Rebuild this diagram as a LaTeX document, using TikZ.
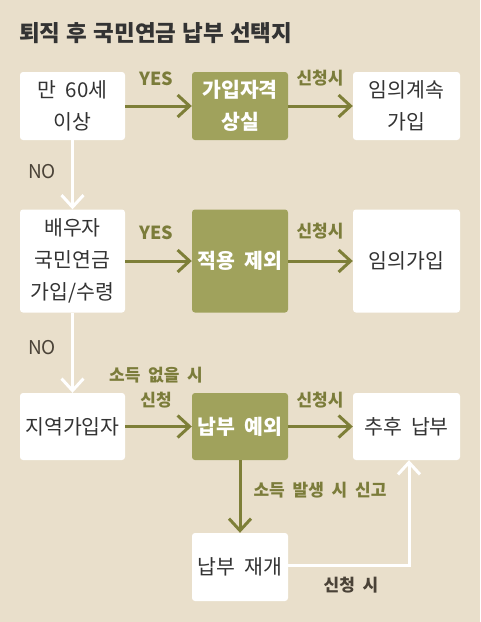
\documentclass[tikz,border=0pt]{standalone}
\usepackage{fontspec}
\setmainfont[WordSpace=2]{Noto Sans CJK KR}
\newfontfamily\titlefont[WordSpace=1.2]{Noto Sans CJK KR}
\usetikzlibrary{arrows.meta}
\definecolor{bg}{HTML}{E9DFCB}
\definecolor{gbox}{HTML}{A0A25C}
\definecolor{gline}{HTML}{7E7F38}
\definecolor{gtext}{HTML}{7B7C3A}
\definecolor{dtext}{HTML}{333333}
\definecolor{ntext}{HTML}{4A4237}
\tikzset{
  wbox/.style={fill=white, rounded corners=3pt, minimum width=105pt, minimum height=68pt, align=center, text=dtext, font=\fontsize{20.5}{32}\selectfont, inner sep=0pt},
  gboxs/.style={fill=gbox, rounded corners=3pt, minimum width=96pt, minimum height=68pt, align=center, text=white, font=\bfseries\fontsize{20.5}{32}\selectfont, inner sep=0pt},
  tall/.style={minimum height=103pt},
  garrow/.style={draw=gline, line width=3pt, -{Straight Barb[length=12pt,width=22pt,line width=3pt]}},
  warrow/.style={draw=white, line width=3pt, -{Straight Barb[length=12pt,width=22pt,line width=3pt]}},
  glabel/.style={text=gtext, font=\bfseries\fontsize{17}{20}\selectfont, inner sep=0pt},
  ylabel/.style={text=gtext, font=\bfseries\fontsize{18}{20}\selectfont, inner sep=0pt},
  nlabel/.style={text=ntext, font=\fontsize{19}{20}\selectfont, inner sep=0pt},
  dlabel/.style={text=ntext, font=\bfseries\fontsize{17}{20}\selectfont, inner sep=0pt},
}
\begin{document}
\begin{tikzpicture}[x=1pt,y=-1pt]
\fill[bg] (0,0) rectangle (480,622);
\useasboundingbox (0,0) rectangle (480,622);
\node[anchor=west, text=dtext, font=\titlefont\bfseries\fontsize{22.5}{24}\selectfont, inner sep=0pt] (title) at (19,33) {퇴직 후 국민연금 납부 선택지};
% row 1
\node[wbox] (A) at (72.5,106) {만 60세\\이상};
\node[gboxs] (B) at (240,106) {가입자격\\상실};
\node[wbox, minimum width=107pt] (C) at (406.5,106) {임의계속\\가입};
% row 2
\node[wbox, tall] (D) at (72.5,261) {배우자\\국민연금\\가입/수령};
\node[gboxs, tall] (E) at (240,261) {적용 제외};
\node[wbox, tall, minimum width=107pt] (F) at (406.5,261) {임의가입};
% row 3
\node[wbox, minimum height=67pt] (G) at (72.5,426.5) {지역가입자};
\node[gboxs, minimum height=67pt] (H) at (240,426.5) {납부 예외};
\node[wbox, minimum height=67pt, minimum width=107pt] (I) at (406.5,426.5) {추후 납부};
\node[wbox, minimum width=96pt] (J) at (240,567) {납부 재개};
% connectors
\draw[garrow] (A) -- (B);
\draw[garrow] (B) -- (C);
\draw[garrow] (D) -- (E);
\draw[garrow] (E) -- (F);
\draw[garrow] (G) -- (H);
\draw[garrow] (H) -- (I);
\draw[garrow] (H) -- (J);
\draw[warrow] (A) -- (D);
\draw[warrow] (D) -- (G);
\coordinate (K) at (409,565);
\draw[warrow] (J.east |- K) -- (K) -- (K |- I.south);
% labels
\node[ylabel] (l1) at (156,79) {YES};
\node[glabel] (l2) at (320,78) {신청시};
\node[nlabel] (l3) at (42,172) {NO};
\node[ylabel] (l4) at (156,232.5) {YES};
\node[glabel] (l5) at (320,231) {신청시};
\node[nlabel] (l6) at (42,348) {NO};
\node[glabel] (l7) at (156,375) {소득 없을 시};
\node[glabel] (l8) at (156,400) {신청};
\node[glabel] (l9) at (320,400) {신청시};
\node[glabel] (l10) at (320,490) {소득 발생 시 신고};
\node[dlabel] (l11) at (351,585) {신청 시};
\end{tikzpicture}
\end{document}
